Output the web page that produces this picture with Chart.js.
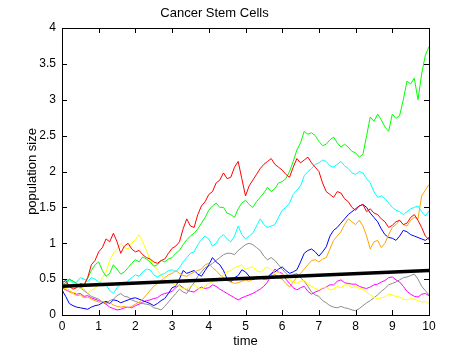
<!DOCTYPE html>
<html>
<head>
<meta charset="utf-8">
<script src="https://cdn.jsdelivr.net/npm/chart.js@4"></script>
<style>
  body { margin: 0; background: #fff; }
  #wrap { width: 474px; height: 354px; }
</style>
</head>
<body>
<div id="wrap"><canvas id="chart" width="474" height="354"></canvas></div>
<script>
// sample times (read every 0.1 time units)
const times = [0, 0.1, 0.2, 0.3, 0.4, 0.5, 0.6, 0.7, 0.8, 0.9,
  1, 1.1, 1.2, 1.3, 1.4, 1.5, 1.6, 1.7, 1.8, 1.9,
  2, 2.1, 2.2, 2.3, 2.4, 2.5, 2.6, 2.7, 2.8, 2.9,
  3, 3.1, 3.2, 3.3, 3.4, 3.5, 3.6, 3.7, 3.8, 3.9,
  4, 4.1, 4.2, 4.3, 4.4, 4.5, 4.6, 4.7, 4.8, 4.9,
  5, 5.1, 5.2, 5.3, 5.4, 5.5, 5.6, 5.7, 5.8, 5.9,
  6, 6.1, 6.2, 6.3, 6.4, 6.5, 6.6, 6.7, 6.8, 6.9,
  7, 7.1, 7.2, 7.3, 7.4, 7.5, 7.6, 7.7, 7.8, 7.9,
  8, 8.1, 8.2, 8.3, 8.4, 8.5, 8.6, 8.7, 8.8, 8.9,
  9, 9.1, 9.2, 9.3, 9.4, 9.5, 9.6, 9.7, 9.8, 9.9,
  10];

const redRun = [0.45, 0.48, 0.40, 0.36, 0.38, 0.44, 0.42, 0.52, 0.70, 0.76,
  0.88, 0.94, 1.06, 1.02, 1.14, 1.02, 0.86, 0.96, 1.00, 0.92,
  0.88, 0.90, 0.84, 0.80, 0.78, 0.74, 0.72, 0.76, 0.78, 0.86,
  0.93, 0.96, 1.02, 1.20, 1.34, 1.24, 1.22, 1.40, 1.52, 1.58,
  1.68, 1.72, 1.84, 1.88, 1.98, 1.90, 1.92, 2.06, 2.14, 1.90,
  1.66, 1.80, 1.88, 1.96, 2.04, 2.10, 2.14, 2.18, 2.10, 2.06,
  2.02, 1.96, 1.92, 2.06, 2.18, 2.12, 2.16, 2.20, 2.12, 2.06,
  2.00, 1.84, 1.72, 1.68, 1.64, 1.72, 1.70, 1.62, 1.58, 1.50,
  1.46, 1.52, 1.54, 1.44, 1.48, 1.42, 1.40, 1.34, 1.30, 1.22,
  1.25, 1.30, 1.32, 1.26, 1.28, 1.36, 1.40, 1.32, 1.22, 1.10,
  1.05];
const greenRun = [0.45, 0.42, 0.50, 0.47, 0.44, 0.38, 0.40, 0.52, 0.62, 0.70,
  0.74, 0.62, 0.54, 0.58, 0.70, 0.64, 0.57, 0.60, 0.66, 0.72,
  0.77, 0.74, 0.81, 0.78, 0.74, 0.68, 0.70, 0.76, 0.74, 0.78,
  0.80, 0.86, 0.90, 0.98, 1.05, 1.10, 1.14, 1.20, 1.28, 1.36,
  1.46, 1.52, 1.56, 1.50, 1.50, 1.42, 1.40, 1.36, 1.48, 1.56,
  1.60, 1.54, 1.50, 1.58, 1.64, 1.70, 1.78, 1.72, 1.76, 1.84,
  1.86, 1.90, 2.00, 2.14, 2.30, 2.40, 2.56, 2.52, 2.54, 2.50,
  2.42, 2.36, 2.38, 2.44, 2.48, 2.40, 2.34, 2.38, 2.34, 2.28,
  2.26, 2.20, 2.24, 2.50, 2.76, 2.70, 2.80, 2.72, 2.62, 2.56,
  2.80, 2.74, 2.78, 3.00, 3.26, 3.22, 3.30, 3.00, 3.36, 3.62,
  3.74];
const cyanRun = [0.45, 0.48, 0.50, 0.44, 0.46, 0.52, 0.50, 0.47, 0.52, 0.50,
  0.46, 0.44, 0.42, 0.34, 0.30, 0.38, 0.44, 0.42, 0.48, 0.52,
  0.56, 0.54, 0.60, 0.64, 0.63, 0.56, 0.53, 0.56, 0.58, 0.62,
  0.63, 0.60, 0.66, 0.74, 0.80, 0.86, 0.88, 0.98, 1.05, 1.10,
  1.06, 0.96, 1.00, 1.08, 1.12, 1.06, 1.02, 1.10, 1.24, 1.12,
  1.06, 1.10, 1.14, 1.24, 1.34, 1.26, 1.22, 1.24, 1.26, 1.36,
  1.46, 1.50, 1.56, 1.68, 1.74, 1.80, 1.94, 2.00, 2.04, 2.10,
  2.12, 2.16, 2.14, 2.08, 2.06, 2.10, 2.14, 2.08, 2.04, 1.98,
  1.96, 2.00, 1.98, 1.90, 1.84, 1.72, 1.64, 1.66, 1.62, 1.56,
  1.50, 1.46, 1.44, 1.40, 1.44, 1.48, 1.50, 1.52, 1.44, 1.38,
  1.45];
const yellowRun = [0.40, 0.37, 0.35, 0.30, 0.33, 0.38, 0.36, 0.31, 0.34, 0.38,
  0.42, 0.52, 0.60, 0.76, 0.86, 0.92, 1.00, 0.94, 0.92, 1.00,
  1.05, 1.12, 1.02, 0.90, 0.77, 0.70, 0.62, 0.56, 0.49, 0.46,
  0.44, 0.42, 0.40, 0.37, 0.36, 0.40, 0.42, 0.38, 0.36, 0.40,
  0.44, 0.46, 0.48, 0.52, 0.56, 0.60, 0.62, 0.66, 0.68, 0.70,
  0.63, 0.66, 0.67, 0.62, 0.60, 0.64, 0.67, 0.63, 0.58, 0.60,
  0.56, 0.52, 0.49, 0.46, 0.44, 0.47, 0.48, 0.43, 0.40, 0.37,
  0.35, 0.38, 0.39, 0.35, 0.36, 0.40, 0.38, 0.42, 0.42, 0.38,
  0.40, 0.37, 0.36, 0.32, 0.28, 0.25, 0.22, 0.24, 0.25, 0.29,
  0.28, 0.26, 0.25, 0.22, 0.21, 0.23, 0.22, 0.20, 0.18, 0.19,
  0.16];
const orangeRun = [0.40, 0.36, 0.32, 0.30, 0.27, 0.28, 0.24, 0.25, 0.22, 0.20,
  0.18, 0.19, 0.16, 0.17, 0.14, 0.12, 0.11, 0.12, 0.10, 0.12,
  0.15, 0.18, 0.22, 0.28, 0.34, 0.40, 0.44, 0.48, 0.52, 0.56,
  0.58, 0.62, 0.58, 0.55, 0.54, 0.57, 0.60, 0.62, 0.64, 0.70,
  0.72, 0.66, 0.62, 0.56, 0.52, 0.48, 0.46, 0.44, 0.45, 0.47,
  0.49, 0.47, 0.50, 0.54, 0.53, 0.50, 0.49, 0.54, 0.57, 0.52,
  0.50, 0.44, 0.39, 0.46, 0.53, 0.58, 0.64, 0.70, 0.76, 0.77,
  0.74, 0.78, 0.80, 0.92, 1.04, 1.10, 1.16, 1.26, 1.34, 1.30,
  1.26, 1.32, 1.24, 1.10, 0.92, 1.02, 1.04, 0.94, 1.00, 1.12,
  1.22, 1.26, 1.32, 1.26, 1.24, 1.32, 1.36, 1.34, 1.66, 1.74,
  1.82];
const blueRun = [0.35, 0.26, 0.16, 0.13, 0.11, 0.10, 0.09, 0.08, 0.11, 0.13,
  0.14, 0.17, 0.19, 0.16, 0.21, 0.20, 0.17, 0.19, 0.21, 0.23,
  0.24, 0.22, 0.20, 0.18, 0.16, 0.13, 0.16, 0.20, 0.23, 0.30,
  0.38, 0.40, 0.50, 0.62, 0.58, 0.60, 0.62, 0.57, 0.54, 0.62,
  0.70, 0.80, 0.74, 0.70, 0.62, 0.50, 0.46, 0.52, 0.55, 0.63,
  0.60, 0.54, 0.49, 0.52, 0.53, 0.50, 0.52, 0.58, 0.60, 0.64,
  0.67, 0.62, 0.58, 0.60, 0.63, 0.74, 0.86, 0.90, 0.92, 0.88,
  0.82, 0.88, 0.95, 1.10, 1.18, 1.22, 1.28, 1.34, 1.40, 1.44,
  1.48, 1.52, 1.54, 1.50, 1.42, 1.36, 1.30, 1.20, 1.12, 1.08,
  1.07, 1.04, 1.10, 1.18, 1.16, 1.12, 1.10, 1.08, 1.06, 1.04,
  1.08];
const grayRun = [0.38, 0.46, 0.50, 0.47, 0.44, 0.38, 0.34, 0.30, 0.26, 0.24,
  0.22, 0.18, 0.17, 0.20, 0.22, 0.27, 0.30, 0.26, 0.25, 0.21,
  0.19, 0.17, 0.16, 0.15, 0.14, 0.10, 0.09, 0.07, 0.12, 0.18,
  0.24, 0.30, 0.36, 0.32, 0.30, 0.38, 0.45, 0.54, 0.60, 0.66,
  0.68, 0.72, 0.76, 0.80, 0.84, 0.86, 0.86, 0.84, 0.90, 0.94,
  0.98, 1.00, 0.98, 0.94, 0.90, 0.82, 0.77, 0.80, 0.76, 0.70,
  0.64, 0.58, 0.53, 0.56, 0.58, 0.52, 0.47, 0.40, 0.32, 0.28,
  0.26, 0.20, 0.17, 0.13, 0.11, 0.10, 0.12, 0.10, 0.09, 0.07,
  0.06, 0.09, 0.13, 0.17, 0.20, 0.24, 0.28, 0.33, 0.37, 0.42,
  0.44, 0.46, 0.49, 0.52, 0.53, 0.55, 0.57, 0.50, 0.40, 0.34,
  0.28];
const magentaRun = [0.38, 0.35, 0.33, 0.31, 0.29, 0.30, 0.26, 0.27, 0.24, 0.22,
  0.20, 0.18, 0.15, 0.11, 0.09, 0.07, 0.08, 0.10, 0.11, 0.10,
  0.13, 0.15, 0.18, 0.20, 0.21, 0.23, 0.24, 0.28, 0.30, 0.31,
  0.33, 0.38, 0.42, 0.38, 0.35, 0.33, 0.32, 0.36, 0.39, 0.37,
  0.38, 0.42, 0.40, 0.36, 0.33, 0.30, 0.27, 0.24, 0.21, 0.24,
  0.26, 0.28, 0.30, 0.33, 0.36, 0.40, 0.46, 0.56, 0.64, 0.60,
  0.58, 0.50, 0.44, 0.38, 0.35, 0.38, 0.40, 0.33, 0.29, 0.32,
  0.34, 0.37, 0.39, 0.42, 0.42, 0.47, 0.49, 0.45, 0.44, 0.43,
  0.43, 0.40, 0.38, 0.37, 0.39, 0.42, 0.43, 0.46, 0.48, 0.52,
  0.53, 0.49, 0.46, 0.40, 0.33, 0.29, 0.26, 0.25, 0.29, 0.30,
  0.27];

// deterministic mean curve
const meanTimes = [0, 10];
const meanLine = [0.40, 0.62];

const runs = [
  { values: redRun, color: '#ff0000' },
  { values: greenRun, color: '#00ff00' },
  { values: cyanRun, color: '#00ffff' },
  { values: yellowRun, color: '#ffff00' },
  { values: orangeRun, color: '#ffa500' },
  { values: blueRun, color: '#0000ff' },
  { values: grayRun, color: '#8c8c8c' },
  { values: magentaRun, color: '#ff00ff' }
];

const datasets = [{
  data: meanTimes.map((t, i) => ({ x: t, y: meanLine[i] })),
  borderColor: '#000000',
  borderWidth: 3.5,
  order: 0
}];
runs.forEach(run => {
  datasets.push({
    data: times.map((t, i) => ({ x: t, y: run.values[i] })),
    borderColor: run.color,
    borderWidth: 1,
    order: 1
  });
});

// box around the plot with inward tick marks, like the original figure
const frame = {
  id: 'frame',
  afterDatasetsDraw(chart) {
    const { ctx, chartArea: a, scales } = chart;
    ctx.save();
    ctx.strokeStyle = '#000';
    ctx.lineWidth = 1;
    ctx.beginPath();
    scales.x.ticks.forEach(tk => {
      const px = Math.round(scales.x.getPixelForValue(tk.value)) + 0.5;
      ctx.moveTo(px, a.bottom); ctx.lineTo(px, a.bottom - 5);
      ctx.moveTo(px, a.top); ctx.lineTo(px, a.top + 5);
    });
    scales.y.ticks.forEach(tk => {
      const py = Math.round(scales.y.getPixelForValue(tk.value)) + 0.5;
      ctx.moveTo(a.left, py); ctx.lineTo(a.left + 5, py);
      ctx.moveTo(a.right, py); ctx.lineTo(a.right - 5, py);
    });
    ctx.stroke();
    ctx.strokeRect(Math.round(a.left) + 0.5, Math.round(a.top) + 0.5,
      Math.round(a.right - a.left), Math.round(a.bottom - a.top));
    ctx.restore();
  }
};

const font = 'Liberation Sans, Arial, sans-serif';

new Chart(document.getElementById('chart').getContext('2d'), {
  type: 'line',
  data: { datasets },
  plugins: [frame],
  options: {
    responsive: false,
    animation: false,
    layout: { padding: { left: 0, right: 45, top: 0, bottom: 0 } },
    elements: { point: { radius: 0 }, line: { tension: 0 } },
    plugins: {
      legend: { display: false },
      tooltip: { enabled: false },
      title: {
        display: true,
        text: 'Cancer Stem Cells',
        color: '#000',
        font: { family: font, size: 13, weight: 'normal' },
        padding: { top: 6, bottom: 6.4 }
      }
    },
    scales: {
      x: {
        type: 'linear',
        min: 0,
        max: 10,
        afterFit: s => { s.height = 39; },
        grid: { display: false, drawTicks: false },
        border: { display: false },
        ticks: { stepSize: 1, padding: 4, color: '#000', font: { family: font, size: 12 } },
        title: { display: true, text: 'time', color: '#000', font: { family: font, size: 13 }, padding: { top: 0, bottom: 5 } }
      },
      y: {
        min: 0,
        max: 4,
        afterFit: s => { s.width = 62; },
        grid: { display: false, drawTicks: false },
        border: { display: false },
        ticks: { stepSize: 0.5, padding: 6, color: '#000', font: { family: font, size: 12 }, callback: v => String(v) },
        title: { display: true, text: 'population size', color: '#000', font: { family: font, size: 13 }, padding: { top: 25, bottom: 0 } }
      }
    }
  }
});
</script>
</body>
</html>
